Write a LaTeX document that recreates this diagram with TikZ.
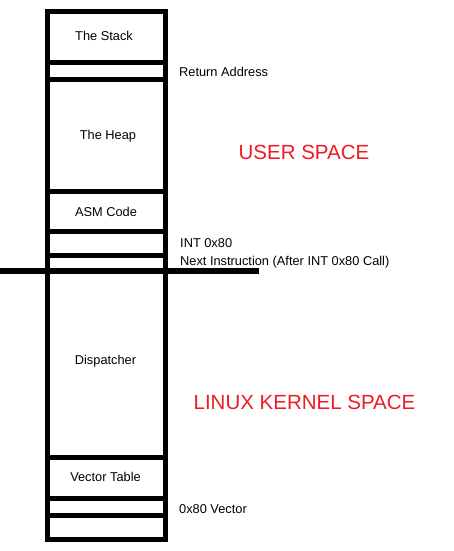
\documentclass[tikz,border=0pt]{standalone}
\usepackage{fontspec}
\setmainfont{Liberation Sans}
\definecolor{spacered}{RGB}{237,28,36}
\begin{document}
\begin{tikzpicture}[x=1pt,y=-1pt,
  seg/.style={draw=black,line width=5pt,minimum width=118pt,inner sep=0pt,outer sep=0pt},
  lbl/.style={font=\fontsize{12.8}{14}\selectfont,inner sep=0pt,anchor=base},
  side/.style={font=\fontsize{12.8}{14}\selectfont,inner sep=0pt,anchor=base west},
  zone/.style={font=\fontsize{20.5}{24}\selectfont,text=spacered,inner sep=0pt,anchor=base},
  divider/.style={draw=black,line width=5.5pt}]
\useasboundingbox (0,0) rectangle (453,551);
% column segments
\node[seg,minimum height=51pt]   (stack) at (106.5,37) {};
\node[seg,minimum height=17pt]   (ret)   at (106.5,71) {};
\node[seg,minimum height=112pt]  (heap)  at (106.5,135.5) {};
\node[seg,minimum height=40pt]   (asm)   at (106.5,211.5) {};
\node[seg,minimum height=24pt]   (int)   at (106.5,243.5) {};
\node[seg,minimum height=15.5pt] (next)  at (106.5,263.25) {};
\node[seg,minimum height=186.5pt](disp)  at (106.5,364.25) {};
\node[seg,minimum height=41pt]   (vt)    at (106.5,478) {};
\node[seg,minimum height=17pt]   (v80)   at (106.5,507) {};
\node[seg,minimum height=24pt]   (last)  at (106.5,527.5) {};
% box labels
\node[lbl] (tstack) at (104,41) {The Stack};
\node[lbl] (theap)  at (108,139) {The Heap};
\node[lbl] (tasm)   at (106,216) {ASM Code};
\node[lbl] (tdisp)  at (105.5,364) {Dispatcher};
\node[lbl] (tvt)    at (105.5,481) {Vector Table};
% side labels
\node[side] (tret)  at (179,76) {Return Address};
\node[side] (tint)  at (180,247) {INT 0x80};
\node[side] (tnext) at (180,265) {Next Instruction (After INT 0x80 Call)};
\node[side] (tv80)  at (179,513) {0x80 Vector};
% zone labels
\node[zone] (user)   at (304,159) {USER SPACE};
\node[zone] (kernel) at (304.5,409) {LINUX KERNEL SPACE};
% user/kernel boundary
\coordinate (bl) at (0,271);
\coordinate (br) at (259,271);
\draw[divider] (bl) -- (br);
\end{tikzpicture}
\end{document}
